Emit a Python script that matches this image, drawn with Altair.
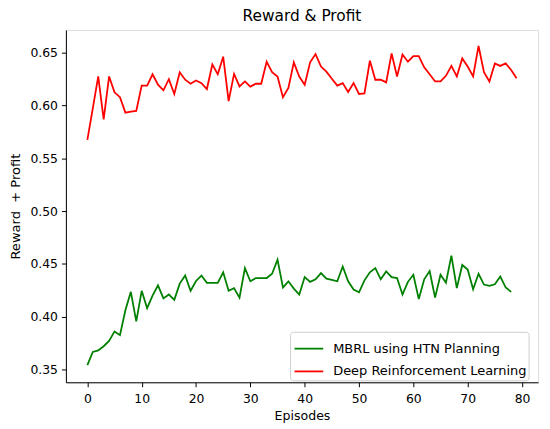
import altair as alt
import pandas as pd

mbrl = [0.354, 0.3665, 0.368, 0.372, 0.377, 0.386, 0.3825, 0.406, 0.4235, 0.3955,
        0.4245, 0.408, 0.420, 0.4297, 0.4173, 0.421, 0.416, 0.4313, 0.439, 0.4245,
        0.4338, 0.439, 0.432, 0.432, 0.432, 0.442, 0.4245, 0.427, 0.418, 0.446,
        0.4335, 0.4366, 0.4366, 0.4366, 0.4406, 0.454, 0.4276, 0.4335, 0.4266, 0.421,
        0.4375, 0.433, 0.4354, 0.4413, 0.436, 0.4348, 0.4335, 0.4475, 0.4335, 0.4257,
        0.423, 0.4344, 0.442, 0.446, 0.4354, 0.4428, 0.4375, 0.4366, 0.421, 0.433,
        0.4397, 0.4166, 0.4354, 0.4432, 0.418, 0.4397, 0.4322, 0.4578, 0.427, 0.449,
        0.4447, 0.426, 0.4406, 0.4304, 0.4292, 0.4307, 0.438, 0.4276, 0.4235]

drl = [0.5675, 0.5974, 0.6276, 0.587, 0.6276, 0.6126, 0.608, 0.5933, 0.5942, 0.5949,
       0.619, 0.619, 0.6297, 0.6198, 0.6145, 0.625, 0.611, 0.6316, 0.6245, 0.6207,
       0.6238, 0.6213, 0.6157, 0.639, 0.6297, 0.6463, 0.6042, 0.630, 0.6182, 0.6229,
       0.618, 0.6207, 0.6207, 0.6416, 0.6316, 0.6276, 0.608, 0.6167, 0.641, 0.6276,
       0.6198, 0.641, 0.6488, 0.637, 0.6322, 0.6254, 0.6189, 0.6213, 0.6129, 0.6213,
       0.611, 0.6115, 0.6425, 0.6245, 0.6245, 0.622, 0.6494, 0.6276, 0.6484, 0.6416,
       0.6469, 0.6469, 0.6363, 0.6297, 0.6229, 0.6229, 0.6282, 0.6376, 0.6276, 0.6447,
       0.637, 0.6276, 0.6565, 0.6316, 0.6229, 0.640, 0.6376, 0.640, 0.6338, 0.626]

series_names = ["MBRL using HTN Planning", "Deep Reinforcement Learning"]
series_colors = ["#008000", "#ff0000"]
x_ticks = [0, 10, 20, 30, 40, 50, 60, 70, 80]
y_ticks = [0.35, 0.40, 0.45, 0.50, 0.55, 0.60, 0.65]

rows = []
for i, v in enumerate(mbrl):
    rows.append({"Episode": i, "Value": v, "Series": series_names[0], "order": 0})
for i, v in enumerate(drl):
    rows.append({"Episode": i, "Value": v, "Series": series_names[1], "order": 1})
df = pd.DataFrame(rows)

FONT = "DejaVu Sans"

chart = alt.Chart(df).mark_line(strokeWidth=1.8, clip=True).encode(
    x=alt.X("Episode:Q",
            scale=alt.Scale(domain=[-3.95, 82.95], nice=False, zero=False),
            axis=alt.Axis(values=x_ticks, title="Episodes", grid=False,
                          tickSize=4.5, tickColor="black", tickWidth=1,
                          labelPadding=6, labelFontSize=12.5, labelColor="black",
                          labelFont=FONT, titleFont=FONT, titleFontSize=12.7,
                          titleFontWeight="normal", titleColor="black",
                          titleBaseline="alphabetic", titleY=38,
                          domainColor="black")),
    y=alt.Y("Value:Q",
            scale=alt.Scale(domain=[0.3378, 0.6717], nice=False, zero=False),
            axis=alt.Axis(values=y_ticks, format=".2f",
                          title="Reward\u00a0\u00a0+ Profit",
                          grid=False, tickSize=4.5, tickColor="black", tickWidth=1,
                          labelPadding=4, labelFontSize=12.5, labelColor="black",
                          labelFont=FONT, titleFont=FONT, titleFontSize=13.2,
                          titleFontWeight="normal", titleColor="black",
                          titleAngle=-90, titleX=-50.5, titleY=178,
                          titleAlign="center", titleBaseline="middle",
                          domainColor="black")),
    color=alt.Color("Series:N",
                    scale=alt.Scale(domain=series_names, range=series_colors),
                    legend=alt.Legend(title=None, orient="none",
                                      legendX=226.5, legendY=305,
                                      symbolType="stroke", symbolSize=841,
                                      symbolStrokeWidth=1.8, symbolOffset=2,
                                      labelFont=FONT, labelFontSize=13.1,
                                      labelColor="black", labelOffset=9,
                                      labelLimit=400,
                                      labelExpr="datum.label + '\u00a0\u00a0'",
                                      rowPadding=-4, padding=1.5,
                                      strokeColor="#cccccc", cornerRadius=3,
                                      fillColor="rgba(255,255,255,0.8)")),
    order="order:Q",
).properties(
    width=477,
    height=356,
    title=alt.TitleParams("Reward & Profit", font=FONT, fontSize=15.5,
                          fontWeight="normal", color="black", frame="group",
                          offset=5.5, anchor="middle"),
    autosize=alt.AutoSizeParams(type="none"),
    padding={"left": 58.5, "top": 20, "right": 4, "bottom": 42},
).configure_view(
    stroke="black", strokeWidth=1
).configure(background="white")

chart.save("out.html", embed_options={"renderer": "svg", "actions": False})
